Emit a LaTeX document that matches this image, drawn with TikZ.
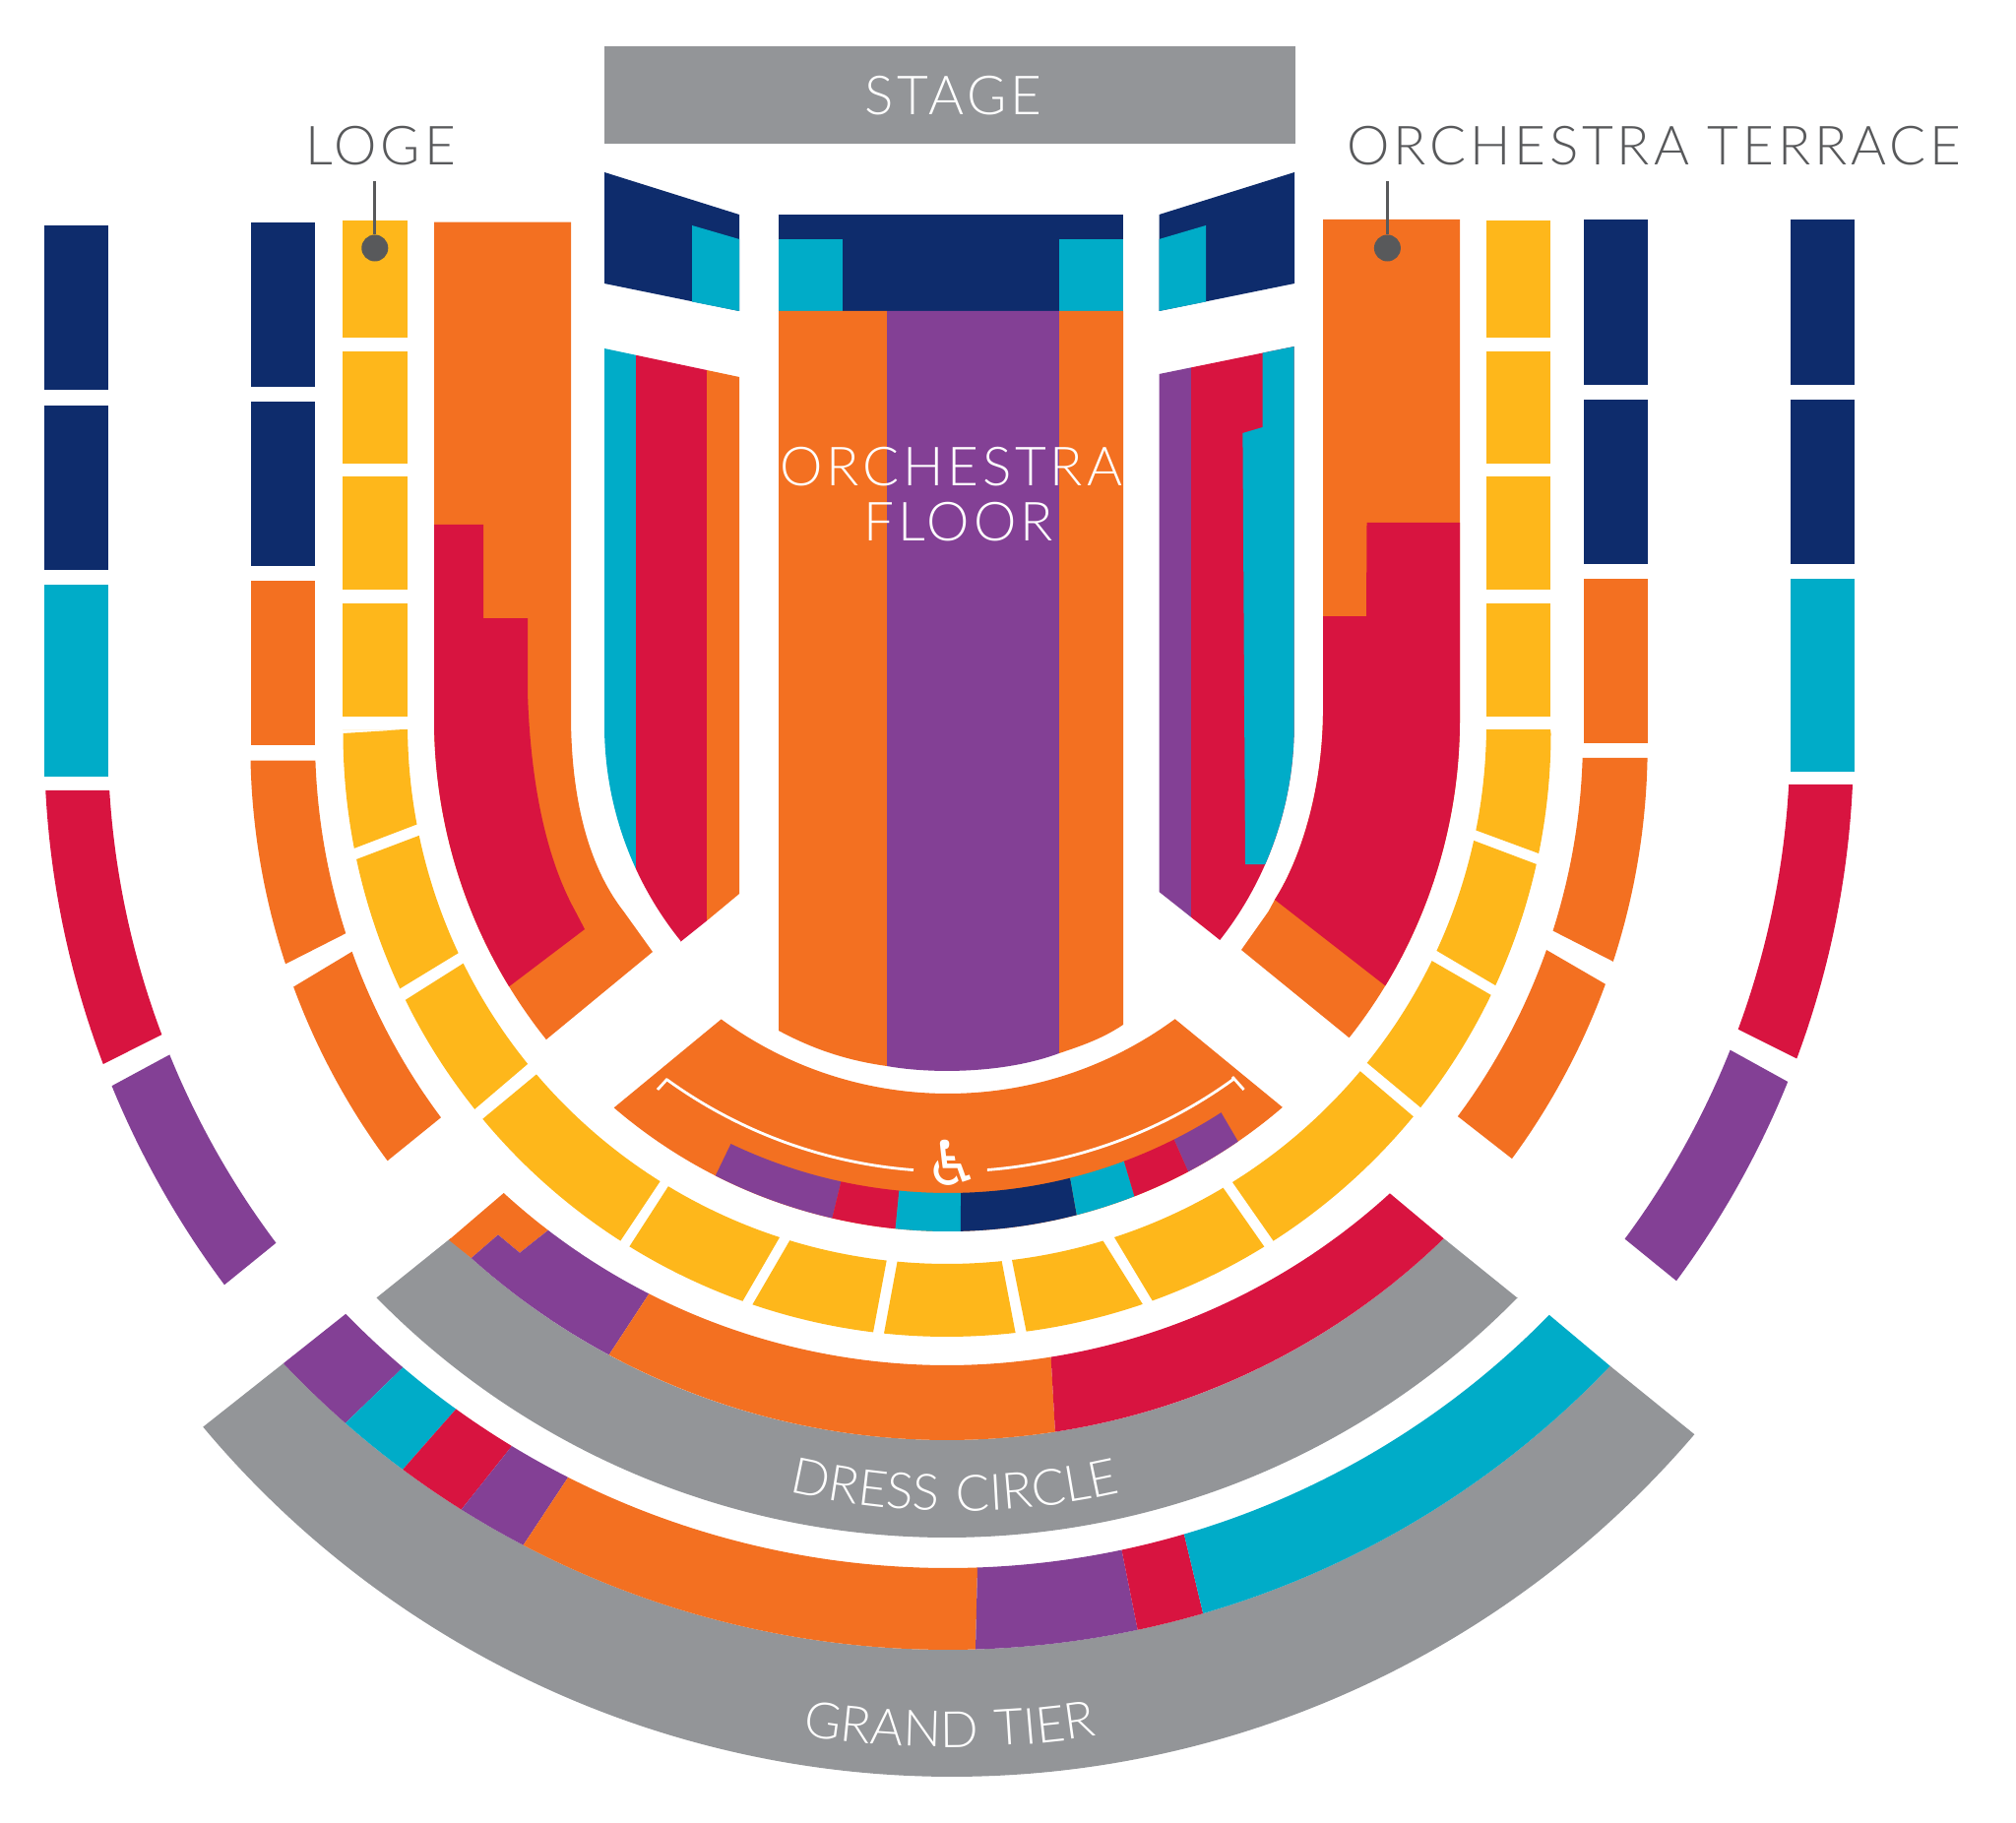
\documentclass[tikz,border=0pt]{standalone}
\usepackage{fontspec}
\setmainfont{Lato}[UprightFont=* Light]
\newfontfamily\labfont{Lato}[UprightFont=* Light,LetterSpace=7]
\newfontfamily\wcfont{DejaVu Sans}
\usetikzlibrary{decorations.text}
\definecolor{cOr}{HTML}{F37021}
\definecolor{cPu}{HTML}{834095}
\definecolor{cRe}{HTML}{D81440}
\definecolor{cNa}{HTML}{0E2C6C}
\definecolor{cTe}{HTML}{00ACC8}
\definecolor{cYe}{HTML}{FEB71B}
\definecolor{cGr}{HTML}{939598}
\definecolor{cDk}{HTML}{58595B}
\newcommand\ARC[8]{#1 ({#2+#4*cos(atan2(#6-#3,#5-#2))},{#3+#4*sin(atan2(#6-#3,#5-#2))}) arc[start angle={atan2(#6-#3,#5-#2)},end angle={atan2(#8-#3,#7-#2)},radius=#4]}
\newcommand\defring[4]{%
 \expandafter\def\csname r#1\endcsname##1##2##3##4{\ARC{}{#2}{#3}{#4}{##1}{##2}{##3}{##4}}%
 \expandafter\def\csname t#1\endcsname##1##2##3##4{\ARC{--}{#2}{#3}{#4}{##1}{##2}{##3}{##4}}}
\defring{Yo}{962}{744.5}{613.5}
\defring{Yi}{962}{736}{548}
\defring{Fo}{964}{755}{919}
\defring{Fi}{964}{750}{854.5}
\defring{So}{964}{757}{709.7}
\defring{Si}{964}{750}{644}
\defring{Bo}{962}{731}{521}
\defring{Il}{962}{737}{348}
\defring{Ir}{962}{737}{352.7}
\defring{Ci}{963}{722}{389}
\defring{Co}{963}{730}{521}
\defring{Cm}{963}{700}{512}
\defring{Wl}{965}{700}{490}
\defring{Dt}{962}{720}{667}
\defring{Dm}{962}{739}{724}
\defring{Db}{962}{751}{811}
\defring{Gt}{963}{739}{854}
\defring{Gm}{963}{747}{929}
\defring{Gb}{967}{813}{992}
\defring{Tx}{972}{787}{748}
\defring{Ty}{966}{812}{963}
\tikzset{
  lab/.style={inner sep=0pt,font=\labfont\fontsize{15.6}{18}\selectfont},
  labw/.style={lab,text=white},
  labd/.style={lab,text=cDk},
  pin/.style={draw=cDk,line width=0.95pt},
  pindot/.style={circle,fill=cDk,inner sep=0pt,minimum size=0.27cm},
  wline/.style={draw=white,line width=0.8pt}
}
\begin{document}
\begin{tikzpicture}[x=0.01cm,y=-0.01cm]
\useasboundingbox (0,0) rectangle (2048,1852);
% far left column
\fill[cNa] (45,229) rectangle (110,396);
\fill[cNa] (45,412) rectangle (110,579);
\fill[cTe] (45,594) rectangle (110,789);
\fill[cRe] \rFo{45}{803}{105}{1081} \tFi{164.6}{1051}{110}{803} -- cycle;
\fill[cPu] \rFo{114}{1103}{227}{1306} \tFi{282}{1261.5}{171}{1072} -- cycle;
% far right column
\fill[cNa] (1819,223) rectangle (1883.6,391);
\fill[cNa] (1819,406) rectangle (1883.6,573);
\fill[cTe] (1819,588) rectangle (1883.6,784);
\fill[cRe] \rFo{1883.6}{797}{1825}{1075.4} \tFi{1764}{1045}{1817.6}{797} -- cycle;
\fill[cPu] \rFo{1815}{1098.5}{1702}{1300.5} \tFi{1646.5}{1255.6}{1757.5}{1066.6} -- cycle;
% second columns
\fill[cNa] (255,225.6) rectangle (320,393);
\fill[cNa] (255,408) rectangle (320,575);
\fill[cOr] (255,590) rectangle (320,757);
\fill[cOr] \rSo{254.7}{772.6}{288}{980} \tSi{347}{949.6}{321}{772.6} -- cycle;
\fill[cOr] \rSo{297}{1003}{394}{1179} \tSi{449}{1134.5}{357}{967} -- cycle;
\fill[cNa] (1608.6,223) rectangle (1674,391);
\fill[cNa] (1608.6,406) rectangle (1674,573);
\fill[cOr] (1608.6,588) rectangle (1674,755);
\fill[cOr] \rSo{1674}{770}{1640.6}{977.4} \tSi{1581}{946.7}{1608.6}{770} -- cycle;
\fill[cOr] \rSo{1631.5}{1000}{1535}{1176.4} \tSi{1479}{1132.7}{1571}{965} -- cycle;
% yellow ring, left column
\fill[cYe] (348,224.5) rectangle (413.5,343);
\fill[cYe] (348,357) rectangle (413.5,471);
\fill[cYe] (348,484) rectangle (413.5,599.5);
\fill[cYe] (348,613) rectangle (413.5,728);
\fill[cYe] (1510,224.5) rectangle (1575,343);
\fill[cYe] (1510,357) rectangle (1575,471);
\fill[cYe] (1510,484) rectangle (1575,599.5);
\fill[cYe] (1510,613) rectangle (1575,728);
\fill[cYe] (348,741) -- (413.5,741) \rYi{413.5}{741}{423}{837.6} \tYo{359}{862}{348.5}{745} -- cycle;
\fill[cYe] \rYo{362}{873}{406}{1004.5} \tYi{465}{968.5}{425}{849} -- cycle;
\fill[cYe] \rYo{411.5}{1016}{482}{1127} \tYi{536}{1081}{470}{979} -- cycle;
\fill[cYe] \rYo{490}{1137}{630}{1261} \tYi{671}{1199.5}{545}{1091.4} -- cycle;
\fill[cYe] \rYo{639}{1267}{754}{1323} \tYi{792}{1257}{679}{1205} -- cycle;
\fill[cYe] \rYo{764}{1326.5}{887}{1353.6} \tYi{900.7}{1280.4}{802}{1261} -- cycle;
\fill[cYe] \rYo{898}{1354.7}{1031.6}{1354} \tYi{1017.7}{1281.7}{911.5}{1282} -- cycle;
\fill[cYe] \rYo{1042.6}{1352.7}{1160.8}{1325} \tYi{1120.6}{1260.7}{1028}{1280} -- cycle;
\fill[cYe] \rYo{1170.8}{1321.7}{1284}{1266} \tYi{1242.6}{1206.7}{1132}{1257} -- cycle;
\fill[cYe] \rYo{1293.8}{1261}{1435.5}{1134} \tYi{1382}{1088.4}{1252}{1201} -- cycle;
\fill[cYe] \rYo{1443}{1125}{1514}{1010.5} \tYi{1454.4}{976}{1388.5}{1079.6} -- cycle;
\fill[cYe] \rYo{1519}{1001}{1561}{878} \tYi{1497.5}{854}{1459.7}{966} -- cycle;
\fill[cYe] \rYo{1563}{867}{1575}{745} -- (1575,741) -- (1510,741) \tYi{1510}{741}{1499.5}{843.5} -- cycle;
% left big section
\fill[cOr] (441,225.6) -- (580,225.6) -- (580,726) .. controls (580,790) and (590,870) .. (633.6,926) -- (663,967) -- (555,1056) \tBo{555}{1056}{441}{731.5} -- cycle;
\fill[cRe] (441,533) -- (491,533) -- (491,628) -- (536,628) -- (536,703) .. controls (538,770) and (548,860) .. (584.6,926) -- (594,944) -- (518,1001.6) \tBo{518}{1001.6}{441}{731.5} -- cycle;
% right big section
\fill[cOr] (1344,223) -- (1483,223) \tBo{1483}{731}{1369}{1053} -- (1261,965) -- (1288.5,926) -- (1295,914) .. controls (1323,870) and (1343,800) .. (1344,726.5) -- cycle;
\fill[cRe] (1388.5,531) -- (1483,531) \tBo{1483}{731}{1405}{1000} -- (1295,914) .. controls (1323,870) and (1343,800) .. (1344,726.5) -- (1344,626) -- (1388,626) -- cycle;
% left inner block
\begin{scope}
\clip (614,354) -- (751,383) -- (751,908) -- (718.5,935) -- (691,957) \tIl{691}{957}{614}{737.5} -- cycle;
\fill[cTe] (600,340) rectangle (646,980);
\fill[cRe] (646,340) rectangle (718,980);
\fill[cOr] (718,340) rectangle (760,980);
\end{scope}
% right inner block
\begin{scope}
\clip (1177.5,380) -- (1314.7,352) \tIr{1314.7}{737}{1238}{954} -- (1177.5,906) -- cycle;
\fill[cPu] (1170,340) rectangle (1210,980);
\fill[cRe] (1210,340) rectangle (1330,980);
\fill[cTe] (1282.6,340) -- (1282.6,434) -- (1262.4,440) -- (1265,878) -- (1330,878) -- (1330,340) -- cycle;
\end{scope}
% stage and wedges
\fill[cGr] (614,47) rectangle (1316,146);
\fill[cNa] (614,175) -- (751,218) -- (751,316) -- (614,288) -- cycle;
\fill[cTe] (703,229) -- (751,243) -- (751,316) -- (703,306.5) -- cycle;
\fill[cNa] (1177.5,218) -- (1315,175) -- (1315,288) -- (1177.5,316) -- cycle;
\fill[cTe] (1177.5,243) -- (1225,229) -- (1225,306.5) -- (1177.5,316) -- cycle;
\fill[cNa] (791,218) rectangle (1141,316);
\fill[cTe] (791,243) rectangle (855.6,316);
\fill[cTe] (1076,243) rectangle (1141,316);
% orchestra floor
\begin{scope}
\clip (791,316) -- (1141,316) -- (1141,1041) .. controls (1120,1055) and (1100,1062) .. (1076,1070) .. controls (1020,1091) and (945,1091) .. (901,1083) .. controls (865,1078) and (830,1068) .. (791,1047) -- cycle;
\fill[cOr] (785,310) rectangle (901,1100);
\fill[cPu] (901,310) rectangle (1076,1100);
\fill[cOr] (1076,310) rectangle (1150,1100);
\end{scope}
% crescent
\fill[cOr] \rCi{733}{1035}{1192}{1033} -- (1303,1125) \tCo{1303}{1125}{624}{1125} -- cycle;
\fill[cPu] \rCm{742.6}{1161.7}{854.5}{1200} \tCo{845.5}{1237}{727}{1194} -- cycle;
\fill[cRe] \rCm{854.5}{1200}{913.4}{1209} \tCo{909.6}{1248}{845.5}{1237} -- cycle;
\fill[cTe] \rCm{913.4}{1209}{976}{1211.7} \tCo{976}{1251}{909.6}{1248} -- cycle;
\fill[cNa] \rCm{976}{1211.7}{1087}{1196} \tCo{1094}{1235}{976}{1251} -- cycle;
\fill[cTe] \rCm{1087}{1196}{1142}{1180} \tCo{1152.6}{1215.7}{1094}{1235} -- cycle;
\fill[cRe] \rCm{1142}{1180}{1193}{1158} \tCo{1207.6}{1191}{1152.6}{1215.7} -- cycle;
\fill[cPu] \rCm{1193}{1158}{1241}{1131} \tCo{1258}{1160}{1207.6}{1191} -- cycle;
% wheelchair lines
\draw[wline] (668,1107) -- (678,1096) \tWl{678}{1096}{928}{1188};
\draw[wline] (1263.6,1107) -- (1252,1094) \tWl{1252}{1094}{1003}{1190};
\node[inner sep=0pt,text=white,font=\wcfont\fontsize{18}{20}\selectfont] (wheel) at (968,1181) {♿};
% dress circle
\fill[cGr] \rDm{456}{1259.7}{1467}{1258.5} -- (1542,1319) \tDb{1542}{1319}{385}{1316} -- cycle;
\fill[cOr] \rDt{514}{1209.5}{559}{1247} -- (528,1272.7) -- (506,1254.4) -- (478.8,1278) -- (456,1259.7) -- cycle;
\fill[cPu] \rDt{559}{1247}{661}{1311} \tDm{620.5}{1373}{478.8}{1278} -- (506,1254.4) -- (528,1272.7) -- cycle;
\fill[cOr] \rDt{661}{1311}{1068}{1381} \tDm{1072.3}{1457}{620.5}{1373} -- cycle;
\fill[cRe] \rDt{1068}{1381}{1410.7}{1211} \tDm{1467}{1258.5}{1072.3}{1457} -- cycle;
% grand tier
\fill[cGr] \rGm{289}{1384}{1638}{1390} \tGb{1727}{1462}{207}{1449} -- cycle;
\fill[cPu] \rGt{351}{1335}{411.5}{1386.7} \tGm{356}{1440}{289}{1384} -- cycle;
\fill[cTe] \rGt{411.5}{1386.7}{465}{1429} \tGm{412.8}{1488}{356}{1440} -- cycle;
\fill[cRe] \rGt{465}{1429}{520.6}{1468} \tGm{470}{1531.4}{412.8}{1488} -- cycle;
\fill[cPu] \rGt{520.6}{1468}{576}{1503} \tGm{530.4}{1572}{470}{1531.4} -- cycle;
\fill[cOr] \rGt{576}{1503}{993}{1592} \tGm{991}{1675}{530.4}{1572} -- cycle;
\fill[cPu] \rGt{993}{1592}{1140}{1577} \tGm{1156}{1657}{991}{1675} -- cycle;
\fill[cRe] \rGt{1140}{1577}{1203.6}{1561} \tGm{1223}{1642}{1156}{1657} -- cycle;
\fill[cTe] \rGt{1203.6}{1561}{1576}{1338} \tGm{1638}{1390}{1223}{1642} -- cycle;
% labels
\node[labw] (stage) at (968,97) {STAGE};
\node[labd] (loge) at (386.7,148) {LOGE};
\node[labd] (terrace) at (1680,148) {ORCHESTRA TERRACE};
\node[labw] (orch) at (966,474) {ORCHESTRA};
\node[labw] (floor) at (973.6,530) {FLOOR};
\coordinate (logetop) at (380.8,184);
\node[pindot] (logedot) at (380.8,252) {};
\draw[pin] (logetop) -- (logedot);
\coordinate (terracetop) at (1409.4,184);
\node[pindot] (terracedot) at (1409.4,252) {};
\draw[pin] (terracetop) -- (terracedot);
\path[decorate,decoration={text along path,text align=center,text={|\labfont\fontsize{14.5}{18}\selectfont\color{white}|DRESS CIRCLE}}] \rTx{680}{1470}{1260}{1470};
\path[decorate,decoration={text along path,text align=center,text={|\labfont\fontsize{14.5}{18}\selectfont\color{white}|GRAND TIER}}] \rTy{680}{1730}{1250}{1730};
\end{tikzpicture}
\end{document}
